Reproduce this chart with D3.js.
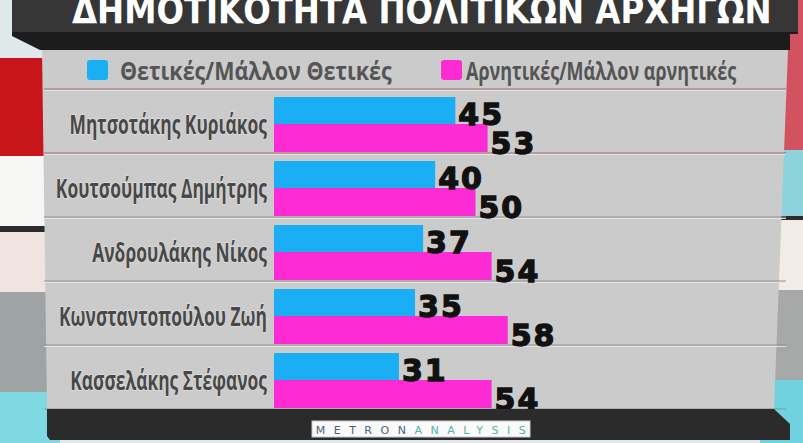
<!DOCTYPE html>
<html>
<head>
<meta charset="utf-8">
<script src="https://cdn.jsdelivr.net/npm/d3@7"></script>
<style>
  body { margin: 0; background: #fff; }
  svg { display: block; }
</style>
</head>
<body>
<div id="chart"></div>
<script>
const titleText = "ΔΗΜΟΤΙΚΟΤΗΤΑ ΠΟΛΙΤΙΚΩΝ ΑΡΧΗΓΩΝ";
const seriesNames = ["Θετικές/Μάλλον Θετικές", "Αρνητικές/Μάλλον αρνητικές"];
const leaders = ["Μητσοτάκης Κυριάκος", "Κουτσούμπας Δημήτρης", "Ανδρουλάκης Νίκος", "Κωνσταντοπούλου Ζωή", "Κασσελάκης Στέφανος"];
const positive = [45, 40, 37, 35, 31];
const negative = [53, 50, 54, 58, 54];

const width = 803, height = 443;
const blue = "#1aaef4", pink = "#fc2bd3";

const svg = d3.select("#chart").append("svg")
    .attr("width", width)
    .attr("height", height);

// studio background
const bg = svg.append("g");
bg.append("rect").attr("width", width).attr("height", height).attr("fill", "#dfe9ea");
bg.append("rect").attr("x", 0).attr("y", 58).attr("width", 60).attr("height", 98).attr("fill", "#c8141b");
bg.append("rect").attr("x", 0).attr("y", 156).attr("width", 60).attr("height", 70).attr("fill", "#f6f6f4");
bg.append("rect").attr("x", 0).attr("y", 226).attr("width", 60).attr("height", 6).attr("fill", "#2c2c2c");
bg.append("rect").attr("x", 0).attr("y", 232).attr("width", 60).attr("height", 60).attr("fill", "#efe4e0");
bg.append("rect").attr("x", 0).attr("y", 292).attr("width", 60).attr("height", 100).attr("fill", "#9ea3a3");
bg.append("rect").attr("x", 0).attr("y", 392).attr("width", 60).attr("height", 51).attr("fill", "#7fd9e2");
bg.append("rect").attr("x", 760).attr("y", 0).attr("width", 43).attr("height", 150).attr("fill", "#d2535f");
bg.append("rect").attr("x", 760).attr("y", 150).attr("width", 43).attr("height", 66).attr("fill", "#8ed3dc");
bg.append("rect").attr("x", 760).attr("y", 216).attr("width", 43).attr("height", 4).attr("fill", "#2c2c2c");
bg.append("rect").attr("x", 760).attr("y", 220).attr("width", 43).attr("height", 70).attr("fill", "#f2ece6");
bg.append("rect").attr("x", 760).attr("y", 290).attr("width", 43).attr("height", 90).attr("fill", "#a7a9a8");
bg.append("rect").attr("x", 760).attr("y", 380).attr("width", 43).attr("height", 63).attr("fill", "#6fd2de");

// squeeze a text horizontally around its anchor point (condensed look)
function squeeze(g, factor, ax, ay) {
    g.attr("transform", "translate(" + ax + "," + ay + ") scale(" + factor + ",1)");
}

// title bar
svg.append("path")
    .attr("d", "M12,0 L798,0 L798,34 L790,34 L790,50 L40,50 L12,36 Z")
    .attr("fill", "#1c1c1c");
svg.append("rect").attr("x", 12).attr("y", 0).attr("width", 786).attr("height", 32).attr("fill", "#363636");
const titleG = svg.append("g");
const title = titleG.append("text")
    .attr("font-family", "DejaVu Sans")
    .attr("font-weight", "bold")
    .attr("font-size", 38)
    .attr("fill", "#fff")
    .text(titleText);
squeeze(titleG, 700 / title.node().getComputedTextLength(), 72, 23);

// panel
svg.append("path")
    .attr("d", "M42,50 L788,50 L774,409 L47,409 Z")
    .attr("fill", "#cbcbcb");

// scales
const x = d3.scaleLinear().domain([0, 100]).range([274, 677]);
const y = d3.scaleBand().domain(leaders).range([89, 409]);

// legend
const legend = svg.append("g");
const legendX = [87, 441];
const legendGap = [33, 25];
const legendSqueeze = [0.86, 0.72];
seriesNames.forEach((name, i) => {
    legend.append("rect")
        .attr("x", legendX[i]).attr("y", 60)
        .attr("width", 21).attr("height", 20).attr("rx", 3)
        .attr("fill", i === 0 ? blue : pink);
    const g = legend.append("g");
    g.append("text")
        .attr("font-family", "Open Sans")
        .attr("font-weight", 700)
        .attr("font-size", 25)
        .attr("fill", "#555")
        .text(name);
    squeeze(g, legendSqueeze[i], legendX[i] + legendGap[i], 80);
});

// row separators
const rows = svg.append("g");
rows.selectAll("line.sep")
    .data(leaders.concat(["end"]))
    .join("line")
    .attr("class", "sep")
    .attr("x1", 44)
    .attr("x2", 786)
    .attr("y1", (d, i) => 89 + i * y.bandwidth())
    .attr("y2", (d, i) => 89 + i * y.bandwidth())
    .attr("stroke", (d, i) => i < 2 ? "#a86a6a" : "#8f8f8f")
    .attr("stroke-width", 1.2);
rows.selectAll("line.hi")
    .data(leaders)
    .join("line")
    .attr("class", "hi")
    .attr("x1", 44)
    .attr("x2", 786)
    .attr("y1", (d, i) => 90.5 + i * y.bandwidth())
    .attr("y2", (d, i) => 90.5 + i * y.bandwidth())
    .attr("stroke", "#e4e4e4")
    .attr("stroke-width", 1);

// leader names
rows.selectAll("g.name")
    .data(leaders)
    .join("g")
    .attr("class", "name")
    .each(function (d) {
        squeeze(d3.select(this), 0.67, 267, y(d) + 45);
    })
    .append("text")
    .attr("text-anchor", "end")
    .attr("font-family", "Open Sans")
    .attr("font-weight", 700)
    .attr("font-size", 26)
    .attr("fill", "#484848")
    .attr("stroke", "#e6e6e6")
    .attr("stroke-width", 1.2)
    .attr("paint-order", "stroke")
    .text(d => d);

// bars
const bars = svg.append("g");
bars.selectAll("rect.pos")
    .data(leaders)
    .join("rect")
    .attr("class", "pos")
    .attr("x", x(0))
    .attr("y", d => y(d) + 8)
    .attr("width", (d, i) => x(positive[i]) - x(0))
    .attr("height", 27)
    .attr("fill", blue);
bars.selectAll("rect.neg")
    .data(leaders)
    .join("rect")
    .attr("class", "neg")
    .attr("x", x(0))
    .attr("y", d => y(d) + 35)
    .attr("width", (d, i) => x(negative[i]) - x(0))
    .attr("height", 28)
    .attr("fill", pink);

// value labels
const valueStyle = sel => sel
    .attr("font-family", "DejaVu Sans")
    .attr("font-weight", "bold")
    .attr("font-size", 30)
    .attr("letter-spacing", 2)
    .attr("fill", "#111")
    .attr("stroke", "#111")
    .attr("stroke-width", 1.3);
bars.selectAll("text.posv")
    .data(leaders)
    .join("text")
    .attr("class", "posv")
    .attr("x", (d, i) => x(positive[i]) + 3)
    .attr("y", d => y(d) + 36)
    .call(valueStyle)
    .text((d, i) => positive[i]);
bars.selectAll("text.negv")
    .data(leaders)
    .join("text")
    .attr("class", "negv")
    .attr("x", (d, i) => x(negative[i]) + 3)
    .attr("y", d => y(d) + 65)
    .call(valueStyle)
    .text((d, i) => negative[i]);

// base
svg.append("path")
    .attr("d", "M47,409 L774,409 L790,424 L790,440 L50,440 L47,436 Z")
    .attr("fill", "#2b2b2b");
svg.append("rect")
    .attr("x", 312).attr("y", 421).attr("width", 218).attr("height", 16)
    .attr("fill", "#fafafa").attr("stroke", "#ccc").attr("stroke-width", 1);
const logo = svg.append("text")
    .attr("x", 425).attr("y", 434)
    .attr("text-anchor", "middle")
    .attr("font-family", "DejaVu Sans")
    .attr("font-size", 11)
    .attr("letter-spacing", 8.5);
logo.append("tspan").attr("fill", "#4c5f78").text("METRON");
logo.append("tspan").attr("fill", "#4fb3ab").text("ANALYSIS");
</script>
</body>
</html>
